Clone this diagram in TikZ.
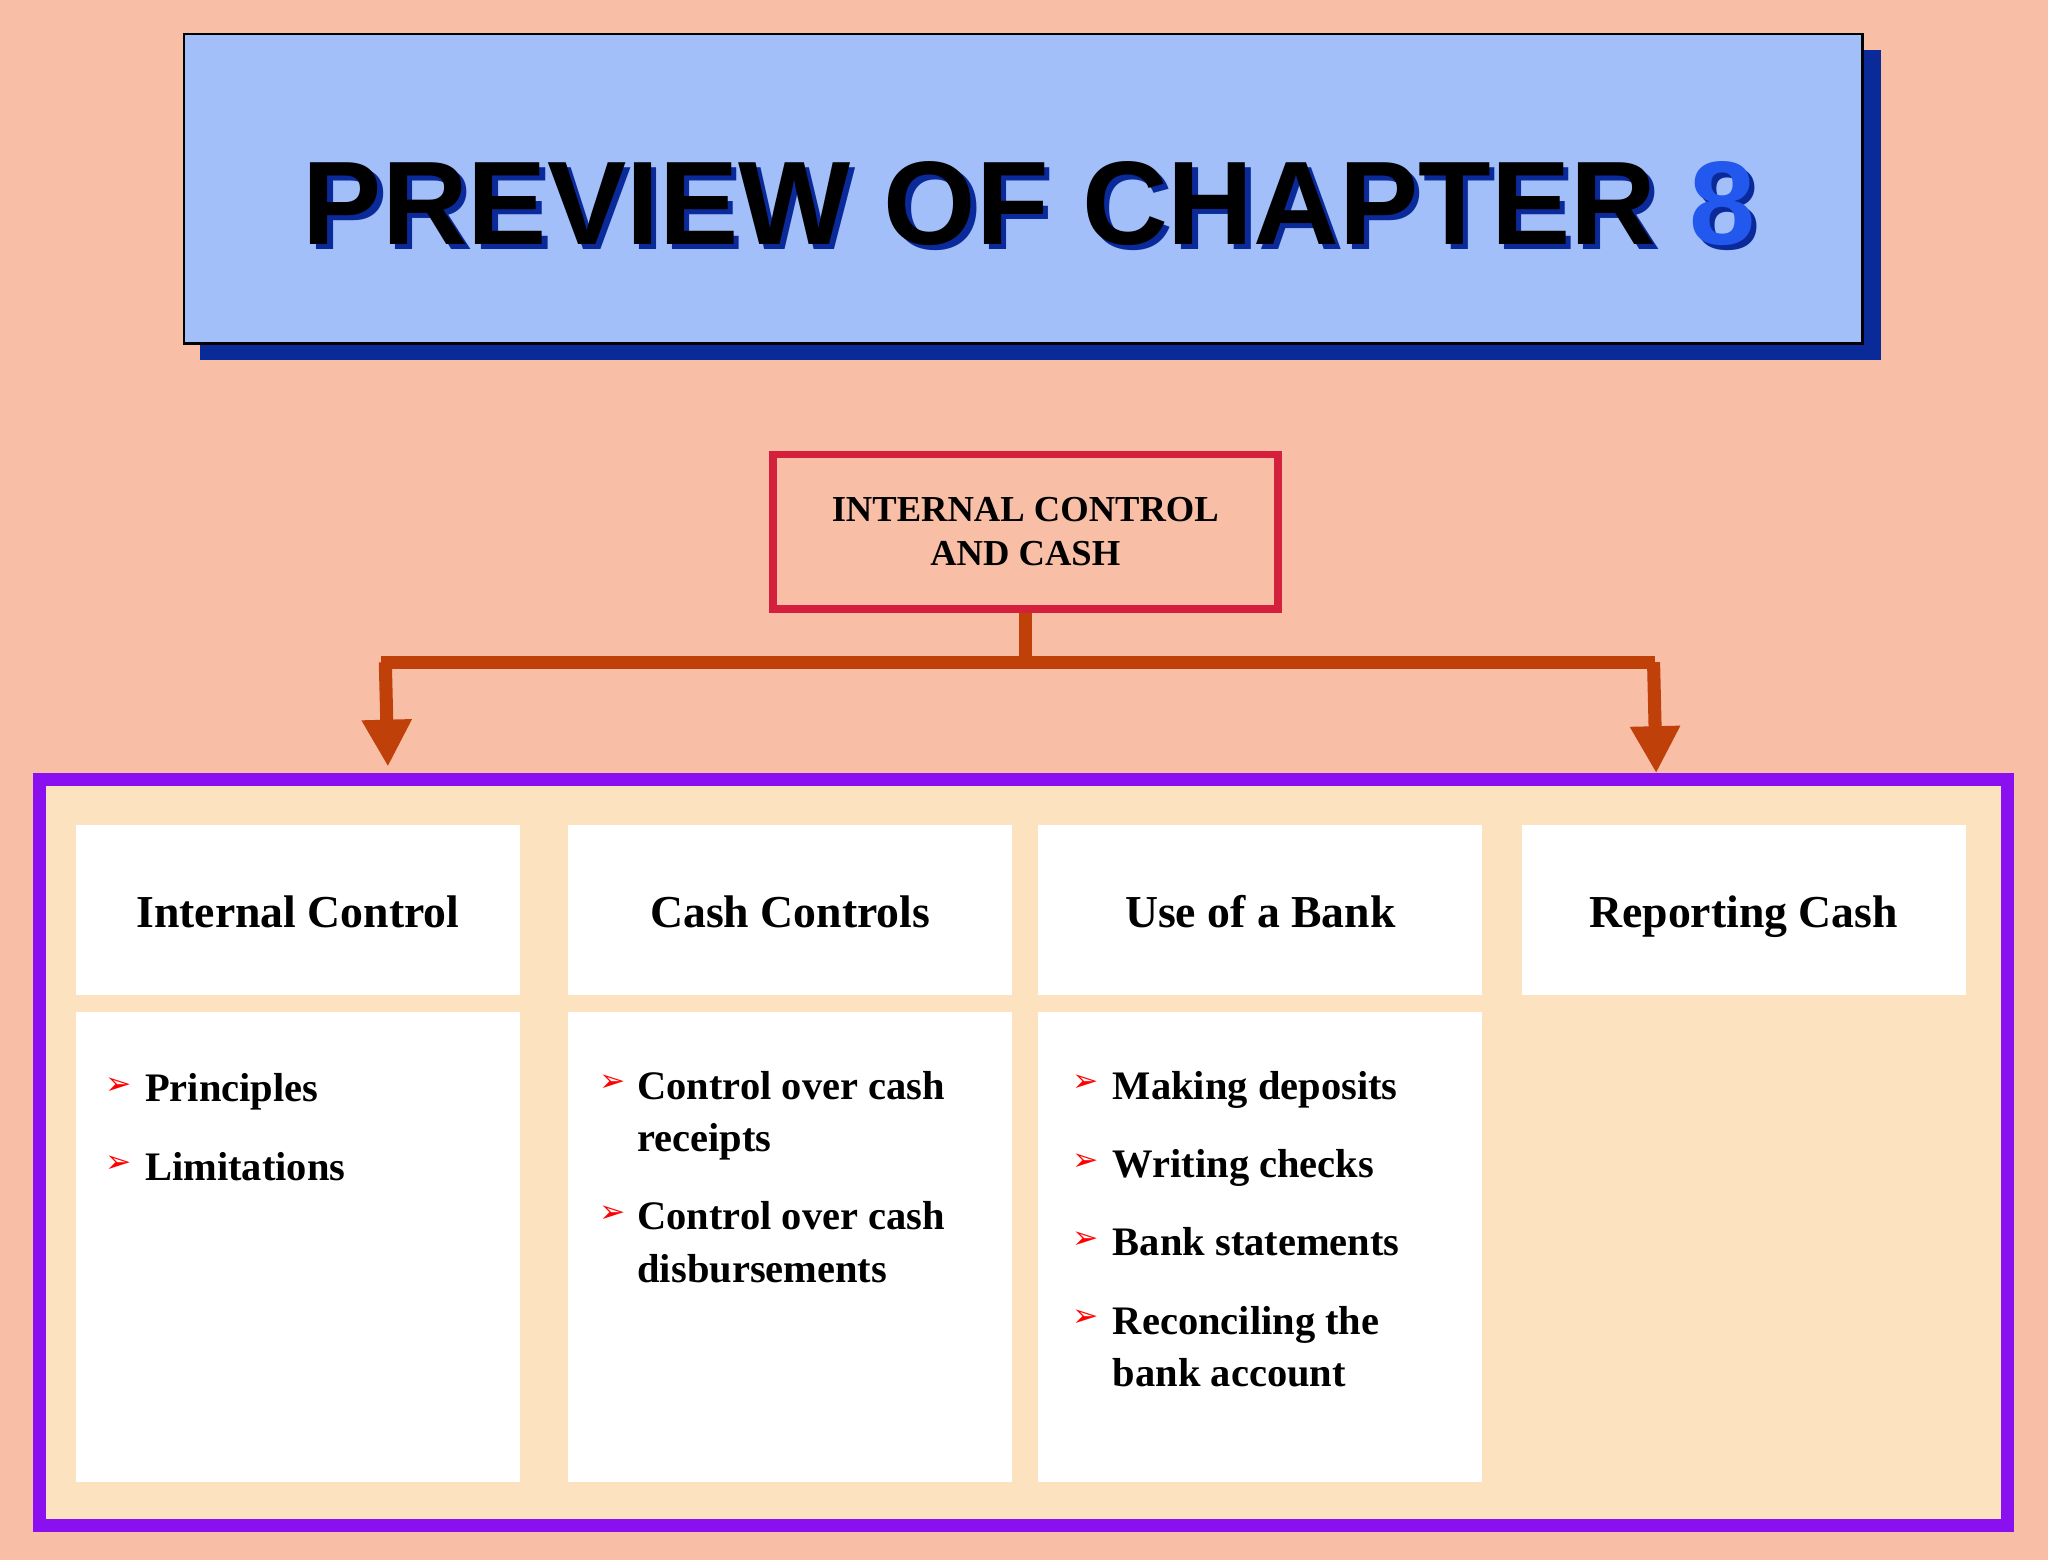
\documentclass[tikz,border=0pt]{standalone}
\usepackage{fontspec}
\setmainfont{Liberation Serif}
\newfontfamily\titlefont{Liberation Sans}
\newfontfamily\symfont{DejaVu Sans}
\usetikzlibrary{arrows.meta}
\definecolor{bg}{HTML}{F9BEA6}
\definecolor{titlefill}{HTML}{A3BFFA}
\definecolor{shadowblue}{HTML}{0A2A9A}
\definecolor{eightblue}{HTML}{2258EE}
\definecolor{crim}{HTML}{D4203C}
\definecolor{conn}{HTML}{C0400A}
\definecolor{purp}{HTML}{8B10F0}
\definecolor{panel}{HTML}{FCE2BE}
\tikzset{
  head/.style={font=\fontsize{17.5}{20}\selectfont\bfseries,anchor=base,text depth=0pt},
  item/.style={font=\fontsize{15.5}{20}\selectfont\bfseries,anchor=north west,align=left},
  bul/.style={font=\symfont\fontsize{12}{12}\selectfont,text=red,anchor=north west},
  connline/.style={draw=conn,line width=5pt},
  connarrow/.style={draw=conn,line width=5pt,-{Triangle[length=18pt,width=18pt]}}
}
\begin{document}
\begin{tikzpicture}[x=0.5pt,y=-0.5pt]
\useasboundingbox[fill=bg] (0,0) rectangle (1568,1194);
% title
\fill[shadowblue] (153,38) rectangle (1440,276);
\draw[black,line width=1pt,fill=titlefill] (141,26) rectangle (1426,263);
\node[font=\titlefont\bfseries\fontsize{45.5}{50}\selectfont,text=shadowblue] at (792,160) {PREVIEW OF CHAPTER 8};
\node (title) [font=\titlefont\bfseries\fontsize{45.5}{50}\selectfont,text=black] at (788,156) {PREVIEW OF CHAPTER \textcolor{eightblue}{8}};
% root
\node (root) [draw=crim,line width=3pt,fill=bg,minimum width=193.5pt,minimum height=59pt,align=center,font=\fontsize{14}{17}\selectfont\bfseries] at (785,407) {INTERNAL CONTROL\\AND CASH};
% panel
\draw[purp,line width=5pt,fill=panel] (30,597) rectangle (1537,1168);
\coordinate (j) at (785,507);
\coordinate (l) at (297,507);
\coordinate (r) at (1262,507);
\coordinate (la) at (297,587);
\coordinate (ra) at (1268,592);
\draw[connline] (root.south) -- (j);
\draw[connline] ([xshift=-2.5pt]l) -- ([xshift=2.5pt]r);
\draw[connarrow] (295,507) -- (la);
\draw[connarrow] (1266,507) -- (ra);
% columns
\foreach \x/\t in {58/Internal Control,435/Cash Controls,795/Use of a Bank,1165/Reporting Cash}{
  \fill[white] (\x,632) rectangle (\x+340,762);
  \node[head] at (\x+170,710) {\t};
}
\foreach \x in {58,435,795}{ \fill[white] (\x,775) rectangle (\x+340,1135); }
% items
\newcommand\itm[4]{\node[bul] at (#1,#2) {➢}; \node[item] at (#3,#2-3) {#4};}
\itm{74}{818}{104}{Principles}
\itm{74}{878}{104}{Limitations}
\itm{452}{816}{481}{Control over cash\\receipts}
\itm{452}{916}{481}{Control over cash\\disbursements}
\itm{814}{816}{845}{Making deposits}
\itm{814}{876}{845}{Writing checks}
\itm{814}{936}{845}{Bank statements}
\itm{814}{996}{845}{Reconciling the\\bank account}
\end{tikzpicture}
\end{document}
